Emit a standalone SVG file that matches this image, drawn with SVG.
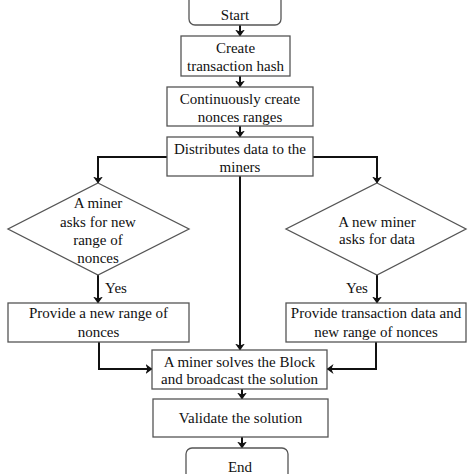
<svg xmlns="http://www.w3.org/2000/svg" width="474" height="474" viewBox="0 0 474 474">
<defs>
<style>
.box{fill:#fff;stroke:#555;stroke-width:1.3}
.t{font-family:"Liberation Serif","Times New Roman",serif;font-size:15px;fill:#111;text-anchor:middle}
.c{fill:none;stroke:#111;stroke-width:2;marker-end:url(#ah)}
</style>
<marker id="ah" viewBox="0 0 7 10" refX="6.5" refY="5" markerWidth="7" markerHeight="10" orient="auto" markerUnits="userSpaceOnUse">
<path d="M0,0 L7,5 L0,10 L2,5 z" fill="#111"/>
</marker>
</defs>
<rect width="474" height="474" fill="#fff"/>
<g id="connectors">
<path class="c" d="M240,25 V36"/>
<path class="c" d="M240,76 V87"/>
<path class="c" d="M240,126 V137"/>
<path class="c" d="M167,157 H98 V183"/>
<path class="c" d="M313,157 H377 V183"/>
<path class="c" d="M98,275 V303"/>
<path class="c" d="M377,275 V303"/>
<path class="c" d="M240,176 V350"/>
<path class="c" d="M99,342 V369 H152"/>
<path class="c" d="M376,342 V369 H327"/>
<path class="c" d="M242,389 V399"/>
<path class="c" d="M242,437 V448"/>
<text class="t" x="116" y="293">Yes</text>
<text class="t" x="357" y="293">Yes</text>
</g>
<g id="start">
<rect class="box" x="189" y="-10" width="92" height="35" rx="6"/>
<text class="t" x="235" y="20">Start</text>
</g>
<g id="create">
<rect class="box" x="181" y="36" width="109" height="40"/>
<text class="t" x="235.5" y="53">Create</text>
<text class="t" x="235.5" y="71">transaction hash</text>
</g>
<g id="continuously">
<rect class="box" x="167" y="87" width="146" height="39"/>
<text class="t" x="240" y="104">Continuously create</text>
<text class="t" x="240" y="122">nonces ranges</text>
</g>
<g id="distributes">
<rect class="box" x="167" y="137" width="146" height="39"/>
<text class="t" x="240" y="154">Distributes data to the</text>
<text class="t" x="240" y="172">miners</text>
</g>
<g id="ask-range">
<polygon class="box" points="98,183 189,229 98,275 8,229"/>
<text class="t" x="98" y="208">A miner</text>
<text class="t" x="98" y="227">asks for new</text>
<text class="t" x="98" y="245">range of</text>
<text class="t" x="98" y="263">nonces</text>
</g>
<g id="ask-data">
<polygon class="box" points="377,183 466,229 377,275 286,229"/>
<text class="t" x="377" y="227">A new miner</text>
<text class="t" x="377" y="244">asks for data</text>
</g>
<g id="provide-range">
<rect class="box" x="8" y="303" width="181" height="39"/>
<text class="t" x="98.5" y="318">Provide a new range of</text>
<text class="t" x="98.5" y="337">nonces</text>
</g>
<g id="provide-data">
<rect class="box" x="286" y="303" width="180" height="39"/>
<text class="t" x="376" y="318">Provide transaction data and</text>
<text class="t" x="376" y="337">new range of nonces</text>
</g>
<g id="solves">
<rect class="box" x="152" y="350" width="175" height="39"/>
<text class="t" x="239.5" y="367">A miner solves the Block</text>
<text class="t" x="239.5" y="384">and broadcast the solution</text>
</g>
<g id="validate">
<rect class="box" x="153" y="399" width="175" height="38"/>
<text class="t" x="240.5" y="423">Validate the solution</text>
</g>
<g id="end">
<rect class="box" x="186" y="448" width="102" height="36" rx="6"/>
<text class="t" x="240" y="472">End</text>
</g>
</svg>
